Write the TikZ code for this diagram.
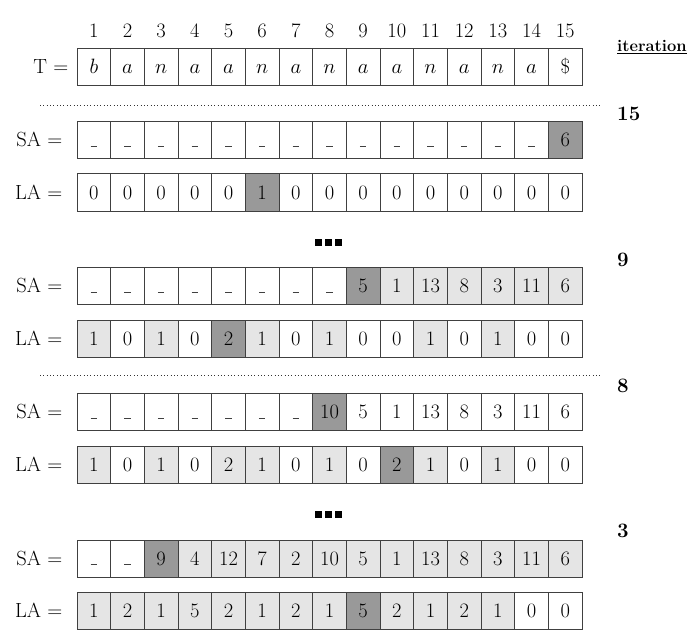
\documentclass[tikz,border=0pt]{standalone}
\newcommand{\cellrow}[3]{%
  \foreach \v/\f [count=\i] in {#3} {
    \node[cell, c\f] (#1-\i) at ({77+(\i-0.5)*33.67}, #2) {\v};
  }}
\newcommand{\blnk}{{\color{black!75}\rule{6.5pt}{0.9pt}}}
\begin{document}
\begin{tikzpicture}[x=1pt,y=-1pt,
  every node/.style={font=\fontsize{20.5}{24}\selectfont},
  cell/.style={draw=black!75, line width=0.9pt, minimum width=33.67pt, minimum height=37.2pt, inner sep=0pt, text height=13.2pt, text depth=0pt, anchor=center},
  cw/.style={fill=white}, cl/.style={fill=black!10}, cd/.style={fill=black!40},
  lab/.style={anchor=base east, inner sep=0pt},
  iter/.style={anchor=base west, inner sep=0pt, font=\fontsize{20.5}{24}\selectfont\bfseries},
  sep/.style={line width=0.9pt, dash pattern=on 0.9pt off 2.45pt, black!80},
  dotsq/.style={fill=black}]
\useasboundingbox (0,0) rectangle (698,641);

% column numbers
\foreach \i in {1,...,15}
  \node[anchor=base, inner sep=0pt] (col-\i) at ({77+(\i-0.5)*33.67}, 37) {\i};

% T row
\node[lab] (lT) at (68.5, 73.6) {T $=$};
\cellrow{T}{67}{$b$/w,$a$/w,$n$/w,$a$/w,$a$/w,$n$/w,$a$/w,$n$/w,$a$/w,$a$/w,$n$/w,$a$/w,$n$/w,$a$/w,\$/w}

\node[anchor=base west, inner sep=0pt, font=\fontsize{16.5}{20}\selectfont\bfseries] (iterlab) at (617, 51.5) {\underline{iteration}};

% separator 1
\coordinate (s1a) at (40,105);
\coordinate (s1b) at (600,105);
\draw[sep] (s1a) -- (s1b);

% iteration 15
\node[iter] (it15) at (617,120) {15};
\node[lab] (lSA1) at (62.5, 146.6) {SA $=$};
\cellrow{SAa}{140}{\blnk/w,\blnk/w,\blnk/w,\blnk/w,\blnk/w,\blnk/w,\blnk/w,\blnk/w,\blnk/w,\blnk/w,\blnk/w,\blnk/w,\blnk/w,\blnk/w,6/d}
\node[lab] (lLA1) at (62.5, 199.1) {LA $=$};
\cellrow{LAa}{192.5}{0/w,0/w,0/w,0/w,0/w,1/d,0/w,0/w,0/w,0/w,0/w,0/w,0/w,0/w,0/w}

% dots 1
\fill[dotsq] (315,239) rectangle +(6.6,6.6);
\fill[dotsq] (325,239) rectangle +(6.6,6.6);
\fill[dotsq] (335,239) rectangle +(6.6,6.6);

% iteration 9
\node[iter] (it9) at (617,266) {9};
\node[lab] (lSA2) at (62.5, 292.8) {SA $=$};
\cellrow{SAb}{286.2}{\blnk/w,\blnk/w,\blnk/w,\blnk/w,\blnk/w,\blnk/w,\blnk/w,\blnk/w,5/d,1/l,13/l,8/l,3/l,11/l,6/l}
\node[lab] (lLA2) at (62.5, 345.8) {LA $=$};
\cellrow{LAb}{339.2}{1/l,0/w,1/l,0/w,2/d,1/l,0/w,1/l,0/w,0/w,1/l,0/w,1/l,0/w,0/w}

% separator 2
\coordinate (s2a) at (40,375);
\coordinate (s2b) at (600,375);
\draw[sep] (s2a) -- (s2b);

% iteration 8
\node[iter] (it8) at (617,392.7) {8};
\node[lab] (lSA3) at (62.5, 418.6) {SA $=$};
\cellrow{SAc}{412}{\blnk/w,\blnk/w,\blnk/w,\blnk/w,\blnk/w,\blnk/w,\blnk/w,10/d,5/w,1/w,13/w,8/w,3/w,11/w,6/w}
\node[lab] (lLA3) at (62.5, 471.3) {LA $=$};
\cellrow{LAc}{464.7}{1/l,0/w,1/l,0/w,2/l,1/l,0/w,1/l,0/w,2/d,1/l,0/w,1/l,0/w,0/w}

% dots 2
\fill[dotsq] (315,511) rectangle +(6.6,6.6);
\fill[dotsq] (325,511) rectangle +(6.6,6.6);
\fill[dotsq] (335,511) rectangle +(6.6,6.6);

% iteration 3
\node[iter] (it3) at (617,537.7) {3};
\node[lab] (lSA4) at (62.5, 565.3) {SA $=$};
\cellrow{SAd}{558.7}{\blnk/w,\blnk/w,9/d,4/l,12/l,7/l,2/l,10/l,5/l,1/l,13/l,8/l,3/l,11/l,6/l}
\node[lab] (lLA4) at (62.5, 617.4) {LA $=$};
\cellrow{LAd}{610.8}{1/l,2/l,1/l,5/l,2/l,1/l,2/l,1/l,5/d,2/l,1/l,2/l,1/l,0/w,0/w}
\end{tikzpicture}
\end{document}
